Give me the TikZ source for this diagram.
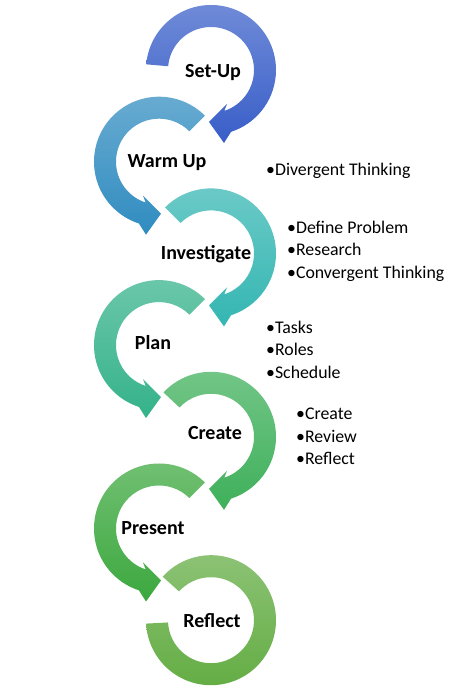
\documentclass[tikz,border=0pt]{standalone}
\usepackage{fontspec}
\setmainfont{Carlito}
\usetikzlibrary{positioning}

\definecolor{setupc}{RGB}{56,94,200}
\definecolor{warmc}{RGB}{48,140,192}
\definecolor{investc}{RGB}{52,182,178}
\definecolor{planc}{RGB}{52,178,138}
\definecolor{createc}{RGB}{62,176,90}
\definecolor{presentc}{RGB}{60,168,62}
\definecolor{reflectc}{RGB}{98,172,66}

% ring with arrow head: #1 centre, #2 mirror (1 or -1), #3 start angle, #4 colour
\newcommand{\cyclearrow}[4]{%
\begin{scope}[shift={(#1)}, xscale=#2]
\shade[top color=#4!72!white, bottom color=#4]
	(#3:65) arc[start angle=#3, end angle=-72, radius=65]
	-- (13,-73) -- (-2,-52) -- (16,-34) -- (-72:43)
	arc[start angle=-72, end angle=#3, radius=43] -- cycle;
\end{scope}}

\begin{document}
\begin{tikzpicture}[
	x=1pt, y=1pt,
	stage/.style={font=\fontsize{20}{24}\selectfont\bfseries, inner sep=0pt, anchor=base},
	notes/.style={font=\fontsize{17.8}{22.5}\selectfont, align=left, inner sep=0pt, anchor=base west}
]
\useasboundingbox (0,0) rectangle (474,688);

% ring centres
\coordinate (c1) at (211,618);
\coordinate (c2) at (159,526.3);
\coordinate (c3) at (211,434.6);
\coordinate (c4) at (159,342.9);
\coordinate (c5) at (211,251.2);
\coordinate (c6) at (159,159.5);
\coordinate (c7) at (211,67.8);

\cyclearrow{c1}{1}{175}{setupc}
\cyclearrow{c2}{-1}{135}{warmc}
\cyclearrow{c3}{1}{135}{investc}
\cyclearrow{c4}{-1}{135}{planc}
\cyclearrow{c5}{1}{137}{createc}
\cyclearrow{c6}{-1}{135}{presentc}
\begin{scope}[shift={(c7)}]
\shade[top color=reflectc!72!white, bottom color=reflectc]
	(138:65) arc[start angle=138, end angle=-177, radius=65]
	-- (-177:43) arc[start angle=-177, end angle=138, radius=43] -- cycle;
\end{scope}

\node[stage] (setup) at (213,610.5) {Set-Up};
\node[stage] (warmup) at (167,520.5) {Warm Up};
\node[stage] (investigate) at (206,428.5) {Investigate};
\node[stage] (plan) at (153,338.5) {Plan};
\node[stage] (create) at (215,248.5) {Create};
\node[stage] (present) at (153,153.5) {Present};
\node[stage] (reflect) at (212,60.5) {Reflect};

% base anchor of a list sits on its last line
\node[notes] (warmnotes) at (266,512) {•Divergent Thinking};
\node[notes] (investnotes) at (287,409.7) {•Define Problem\\•Research\\•Convergent Thinking};
\node[notes] (plannotes) at (266,309.7) {•Tasks\\•Roles\\•Schedule};
\node[notes] (createnotes) at (296,223) {•Create\\•Review\\•Reflect};
\end{tikzpicture}
\end{document}
